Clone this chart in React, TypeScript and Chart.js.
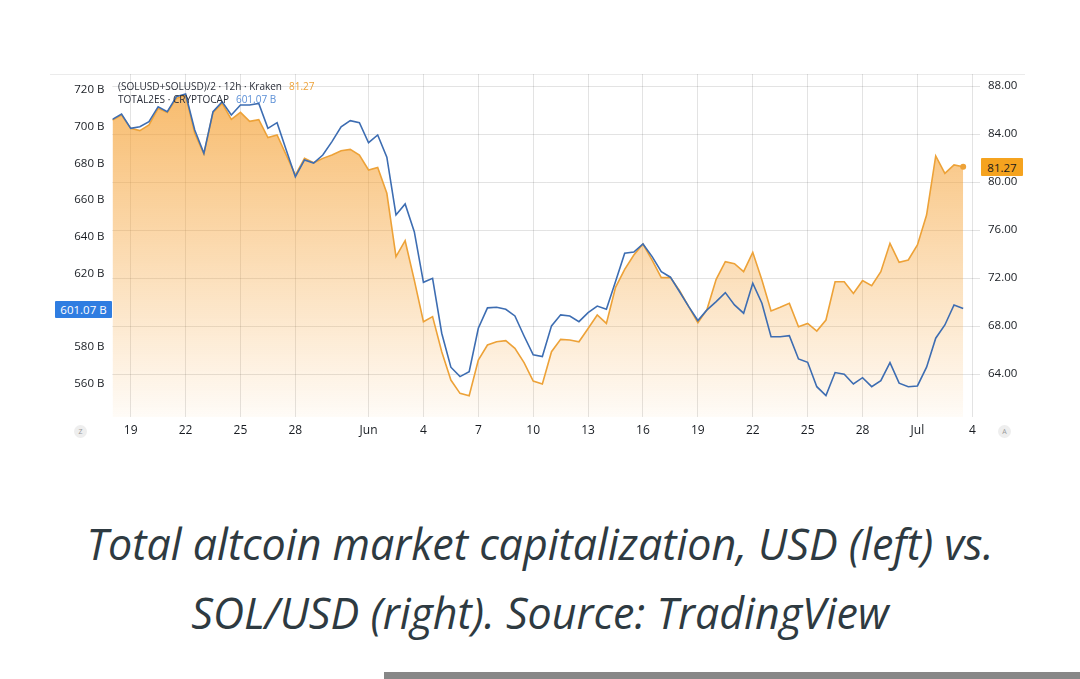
import React, { useEffect, useRef } from 'react';
import { Chart, registerables } from 'chart.js';

Chart.register(...registerables);

// 12h candles starting May 18 (day 0)
const STEP_DAYS = 0.5;

// TOTAL2ES · CRYPTOCAP, billions USD (left axis)
const altcoinCap = [
  704.0, 706.9, 699.1, 700.0, 702.8, 710.9, 708.2, 716.4, 717.8, 698.2,
  685.5, 708.2, 713.6, 706.4, 711.8, 711.8, 712.7, 699.1, 702.2, 687.3,
  672.8, 681.9, 680.2, 684.6, 691.9, 700.0, 703.3, 702.2, 691.3, 695.5,
  683.4, 652.0, 658.0, 642.9, 615.3, 617.5, 587.6, 569.1, 564.0, 566.7,
  590.3, 601.4, 601.7, 600.6, 597.0, 586.1, 575.8, 574.9, 591.6, 597.6,
  597.0, 593.9, 598.8, 602.4, 600.6, 615.7, 631.1, 631.8, 636.2, 629.3,
  621.1, 618.1, 610.2, 602.1, 594.5, 600.3, 604.8, 609.7, 603.0, 598.5,
  614.8, 603.9, 585.7, 585.7, 586.3, 573.6, 571.8, 558.5, 553.7, 566.2,
  565.3, 560.0, 563.4, 558.5, 561.8, 571.6, 560.4, 558.5, 558.9, 569.1,
  584.9, 592.1, 603.0, 601.07,
];

// (SOLUSD+SOLUSD)/2 · 12h · Kraken (right axis)
const solUsd = [
  85.17, 85.58, 84.47, 84.28, 84.75, 86.14, 85.8, 86.97, 87.25, 84.06,
  82.33, 85.8, 86.55, 85.22, 85.8, 85.05, 85.2, 83.7, 83.92, 82.25,
  80.58, 81.97, 81.6, 81.97, 82.25, 82.61, 82.72, 82.25, 81.0, 81.22,
  79.06, 73.78, 75.11, 71.83, 68.36, 68.78, 65.86, 63.5, 62.39, 62.19,
  65.17, 66.42, 66.69, 66.78, 66.14, 64.95, 63.42, 63.17, 65.86, 66.89,
  66.83, 66.69, 67.8, 68.92, 68.22, 71.22, 72.72, 73.92, 74.83, 73.5,
  72.03, 72.03, 70.94, 69.61, 68.28, 69.39, 71.89, 73.36, 73.2, 72.53,
  74.14, 71.83, 69.25, 69.56, 69.89, 67.94, 68.22, 67.58, 68.5, 71.69,
  71.69, 70.72, 71.78, 71.36, 72.53, 74.89, 73.31, 73.5, 74.75, 77.25,
  82.17, 80.72, 81.42, 81.27,
];

const xTickDays = [1, 4, 7, 10, 14, 17, 20, 23, 26, 29, 32, 35, 38, 41, 44, 47];
const xTickLabels = ['19', '22', '25', '28', 'Jun', '4', '7', '10', '13', '16', '19', '22', '25', '28', 'Jul', '4'];
const leftTicks = [560, 580, 600, 620, 640, 660, 680, 700, 720];
const rightTicks = [64, 68, 72, 76, 80, 84, 88];

const solLabel = '(SOLUSD+SOLUSD)/2 · 12h · Kraken';
const capLabel = 'TOTAL2ES · CRYPTOCAP';
const solLast = '81.27';
const capLast = '601.07 B';
const caption1 = 'Total altcoin market capitalization, USD (left) vs.';
const caption2 = 'SOL/USD (right). Source: TradingView';

const ORANGE = '#eda238';
const BLUE = '#3d6db2';
const FONT = "'Open Sans', 'DejaVu Sans', sans-serif";
const TICK_COLOR = '#181c22';

export default function App() {
  const ref = useRef<HTMLCanvasElement>(null);

  useEffect(() => {
    if (!ref.current) return;
    const last = solUsd.length - 1;
    const topLine = {
      id: 'topLine',
      beforeDatasetsDraw(chart: any) {
        const { ctx, chartArea } = chart;
        ctx.save();
        ctx.strokeStyle = 'rgba(0,0,0,0.08)';
        ctx.lineWidth = 1;
        ctx.beginPath();
        ctx.moveTo(50, Math.round(chartArea.top) + 0.5);
        ctx.lineTo(1025, Math.round(chartArea.top) + 0.5);
        ctx.stroke();
        ctx.restore();
      },
    };
    const chart = new Chart(ref.current, {
      type: 'line',
      data: {
        datasets: [
          {
            label: capLabel,
            data: altcoinCap.map((v, i) => ({ x: i * STEP_DAYS, y: v })),
            yAxisID: 'yL',
            borderColor: BLUE,
            borderWidth: 1.6,
            pointRadius: 0,
            fill: false,
            tension: 0,
          },
          {
            label: solLabel,
            data: solUsd.map((v, i) => ({ x: i * STEP_DAYS, y: v })),
            yAxisID: 'yR',
            borderColor: ORANGE,
            borderWidth: 1.6,
            pointRadius: solUsd.map((_, i) => (i === last ? 3 : 0)),
            pointBackgroundColor: ORANGE,
            pointBorderWidth: 0,
            fill: 'start',
            tension: 0,
            backgroundColor: (c: any) => {
              const { ctx, chartArea } = c.chart;
              if (!chartArea) return 'rgba(245,160,50,0.4)';
              const g = ctx.createLinearGradient(0, chartArea.top, 0, chartArea.bottom);
              g.addColorStop(0, 'rgba(245,160,50,0.75)');
              g.addColorStop(1, 'rgba(245,160,50,0.04)');
              return g;
            },
          },
        ],
      },
      options: {
        animation: false,
        responsive: true,
        maintainAspectRatio: false,
        layout: { padding: { top: 74, left: 0, right: 0, bottom: 0 } },
        plugins: { legend: { display: false }, tooltip: { enabled: false } },
        scales: {
          x: {
            type: 'linear',
            min: 0,
            max: 47.42,
            afterBuildTicks: (s: any) => {
              s.ticks = xTickDays.map((v) => ({ value: v }));
            },
            afterFit: (s: any) => {
              s.height = 53;
            },
            ticks: {
              autoSkip: false,
              maxRotation: 0,
              padding: 6,
              color: TICK_COLOR,
              font: { family: FONT, size: 12 },
              callback: (_v: any, i: number) => xTickLabels[i],
            },
            grid: { color: 'rgba(0,0,0,0.11)', drawTicks: false },
            border: { display: false },
          },
          yL: {
            type: 'linear',
            position: 'left',
            min: 542.0,
            max: 728.7,
            afterBuildTicks: (s: any) => {
              s.ticks = leftTicks.map((v) => ({ value: v }));
            },
            afterFit: (s: any) => {
              s.width = 112.4;
            },
            ticks: {
              padding: 8,
              color: TICK_COLOR,
              font: { family: FONT, size: 11.5 },
              callback: (v: any) => `${v} B`,
            },
            grid: { display: false, drawTicks: false },
            border: { display: false },
          },
          yR: {
            type: 'linear',
            position: 'right',
            min: 60.42,
            max: 89,
            afterBuildTicks: (s: any) => {
              s.ticks = rightTicks.map((v) => ({ value: v }));
            },
            afterFit: (s: any) => {
              s.width = 100;
            },
            ticks: {
              padding: 8,
              color: TICK_COLOR,
              font: { family: FONT, size: 11.5 },
              callback: (v: any) => Number(v).toFixed(2),
            },
            grid: { color: 'rgba(0,0,0,0.11)', drawTicks: false },
            border: { display: false },
          },
        },
      },
      plugins: [topLine],
    } as any);
    return () => chart.destroy();
  }, []);

  const badge: React.CSSProperties = {
    position: 'absolute',
    fontFamily: FONT,
    fontSize: 11.5,
    display: 'flex',
    alignItems: 'center',
    justifyContent: 'center',
    borderRadius: 1,
  };
  const circle: React.CSSProperties = {
    position: 'absolute',
    width: 13,
    height: 13,
    borderRadius: '50%',
    background: '#eeeeee',
    color: '#9a9a9a',
    fontFamily: FONT,
    fontSize: 7,
    display: 'flex',
    alignItems: 'center',
    justifyContent: 'center',
  };

  return (
    <div style={{ position: 'fixed', left: 0, top: 0, width: 1080, height: 679, background: '#fff', overflow: 'hidden' }}>
      <div style={{ position: 'absolute', left: 0, top: 0, width: 1080, height: 470 }}>
        <canvas ref={ref} />
      </div>
      <div style={{ position: 'absolute', left: 118, top: 80, fontFamily: FONT, fontSize: 10, lineHeight: '13px', color: '#2a2e39', whiteSpace: 'nowrap' }}>
        {solLabel}
        <span style={{ color: ORANGE, marginLeft: 7 }}>{solLast}</span>
      </div>
      <div style={{ position: 'absolute', left: 118, top: 93, fontFamily: FONT, fontSize: 10, lineHeight: '13px', color: '#2a2e39', whiteSpace: 'nowrap' }}>
        {capLabel}
        <span style={{ color: '#5b8fd6', marginLeft: 7 }}>{capLast}</span>
      </div>
      <div style={{ ...badge, left: 55, top: 301, width: 57, height: 17, background: '#2f7de1', color: '#fff' }}>{capLast}</div>
      <div style={{ ...badge, left: 981, top: 158, width: 42, height: 18, background: '#f5a31f', color: '#1a1a1a' }}>{solLast}</div>
      <div style={{ ...circle, left: 74, top: 425 }}>Z</div>
      <div style={{ ...circle, left: 998, top: 425 }}>A</div>
      <div
        style={{
          position: 'absolute',
          left: 0,
          top: 509,
          width: 1080,
          textAlign: 'center',
          fontFamily: "'Open Sans', sans-serif",
          fontStyle: 'italic',
          fontSize: 43,
          lineHeight: '69px',
          color: '#2e3a41',
          whiteSpace: 'nowrap',
        }}
      >
        {caption1}
        <br />
        {caption2}
      </div>
      <div style={{ position: 'absolute', left: 384, top: 672, width: 696, height: 7, background: '#878787' }} />
    </div>
  );
}
